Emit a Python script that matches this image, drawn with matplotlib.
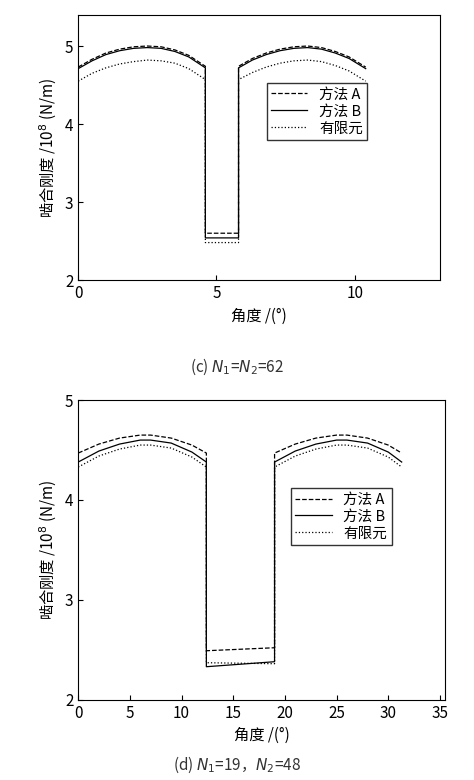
import matplotlib
matplotlib.use("Agg")
import matplotlib.pyplot as plt

plt.rcParams['font.family'] = ['Noto Sans CJK SC', 'DejaVu Sans']

# (c) N1=N2=62
c_x = [0, 0.5, 1.0, 1.5, 2.0, 2.5, 3.0, 3.5, 4.0, 4.6, 4.6, 5.8, 5.8, 6.3, 6.8, 7.3, 7.8, 8.3, 8.8, 9.3, 9.8, 10.4]
c_A = [4.73, 4.83, 4.91, 4.96, 4.99, 5.00, 4.99, 4.95, 4.88, 4.74, 2.60, 2.60, 4.74, 4.84, 4.91, 4.96, 4.99, 5.00, 4.98, 4.93, 4.86, 4.73]
c_B = [4.71, 4.81, 4.89, 4.94, 4.97, 4.98, 4.97, 4.93, 4.86, 4.72, 2.54, 2.54, 4.72, 4.82, 4.89, 4.94, 4.97, 4.98, 4.96, 4.91, 4.84, 4.71]
c_F = [4.55, 4.65, 4.72, 4.77, 4.80, 4.82, 4.81, 4.78, 4.71, 4.57, 2.48, 2.48, 4.57, 4.66, 4.73, 4.78, 4.81, 4.82, 4.80, 4.75, 4.68, 4.55]

# (d) N1=19, N2=48
d_x = [0, 2, 4, 6, 7, 9, 11, 12.4, 12.4, 19.0, 19.0, 21, 23, 25, 26, 28, 30, 31.3]
d_A = [4.47, 4.56, 4.62, 4.65, 4.65, 4.62, 4.55, 4.47, 2.49, 2.52, 4.47, 4.56, 4.62, 4.65, 4.65, 4.62, 4.55, 4.47]
d_B = [4.38, 4.49, 4.56, 4.60, 4.60, 4.57, 4.48, 4.38, 2.33, 2.38, 4.38, 4.49, 4.56, 4.60, 4.60, 4.57, 4.48, 4.38]
d_F = [4.33, 4.44, 4.51, 4.55, 4.55, 4.52, 4.43, 4.33, 2.37, 2.36, 4.33, 4.44, 4.51, 4.55, 4.55, 4.52, 4.43, 4.33]

labels = ['方法 A', '方法 B', '有限元']
styles = ['--', '-', ':']

fig = plt.figure(figsize=(4.74, 7.8), dpi=100)
ax1 = fig.add_axes([0.165, 0.641, 0.764, 0.34])
ax2 = fig.add_axes([0.165, 0.103, 0.774, 0.384])

def draw(ax, x, series, xlim, ylim, xticks, legloc):
    for ys, ls, lb in zip(series, styles, labels):
        ax.plot(x, ys, ls, color='black', lw=0.9, label=lb)
    ax.set_xlim(*xlim)
    ax.set_ylim(*ylim)
    ax.set_xticks(xticks)
    ax.set_yticks([2, 3, 4, 5])
    ax.tick_params(direction='in', labelsize=11)
    ax.set_xlabel('角度 /(°)', fontsize=11)
    ax.set_ylabel('啮合刚度 /10$^8$ (N/m)', fontsize=11)
    ax.legend(loc='upper left', bbox_to_anchor=legloc, frameon=True, fancybox=False,
              edgecolor='black', fontsize=10.5, handlelength=2.5, borderpad=0.3, labelspacing=0.2)

draw(ax1, c_x, [c_A, c_B, c_F], (0, 13.1), (2, 5.4), [0, 5, 10], (0.5, 0.77))
draw(ax2, d_x, [d_A, d_B, d_F], (0, 35.5), (2, 5.0), list(range(0, 36, 5)), (0.56, 0.73))

fig.text(0.5, 1 - 367/780, '(c) $N_1$=$N_2$=62', ha='center', va='center', fontsize=11, color='#333333')
fig.text(0.5, 1 - 765/780, '(d) $N_1$=19，$N_2$=48', ha='center', va='center', fontsize=11, color='#333333')

fig.savefig('out.png', dpi=100)
